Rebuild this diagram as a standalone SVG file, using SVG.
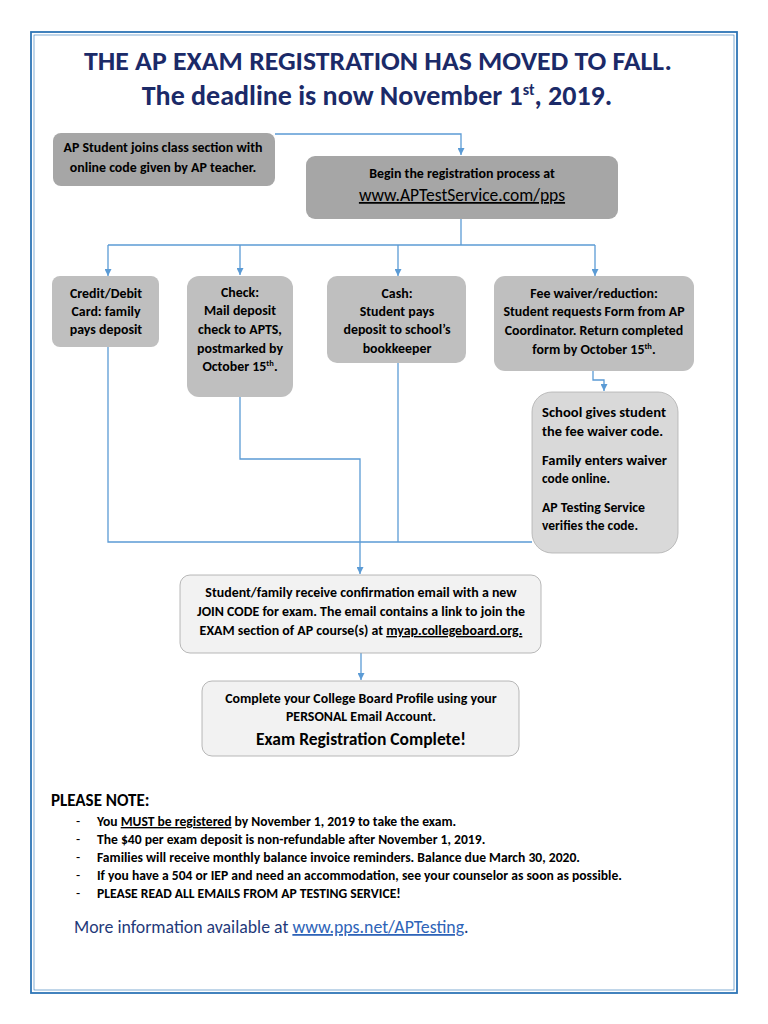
<svg xmlns="http://www.w3.org/2000/svg" width="768" height="1024" viewBox="0 0 768 1024">
<style>
text{font-family:"Carlito","Lato","Liberation Sans",sans-serif;fill:#000}
.t{font-weight:bold;fill:#1b2a68;font-size:26.5px}
.t2{font-size:28px}
.b{font-weight:bold}
.s{font-size:13.9px}
.n{font-size:13.6px}
.dark{fill:#a6a6a6}
.mid{fill:#bfbfbf}
.light{fill:#d9d9d9;stroke:#b0b0b0;stroke-width:0.8}
.pale{fill:#f2f2f2;stroke:#a6a6a6;stroke-width:0.8}
.c{fill:none;stroke:#5b9bd5;stroke-width:1.3}
</style>
<defs>
<marker id="ah" viewBox="0 0 10 10" refX="10" refY="5" markerWidth="7" markerHeight="7" markerUnits="userSpaceOnUse" orient="auto">
<path d="M0,0 L10,5 L0,10 z" fill="#5b9bd5"/>
</marker>
</defs>
<rect width="768" height="1024" fill="#fff"/>
<rect x="31" y="32" width="706" height="961" fill="none" stroke="#2e75b6" stroke-width="1.8"/>
<rect x="34" y="35" width="700" height="955" fill="none" stroke="#2e75b6" stroke-width="0.6"/>

<g id="title">
<text class="t" x="378" y="70" text-anchor="middle" textLength="588" lengthAdjust="spacingAndGlyphs">THE AP EXAM REGISTRATION HAS MOVED TO FALL.</text>
<text class="t t2" x="377" y="105" text-anchor="middle">The deadline is now November 1<tspan style="font-size:16px" dy="-10">st</tspan><tspan dy="10">, 2019.</tspan></text>
</g>

<g id="connectors">
<path class="c" d="M275,134 H461 V155" marker-end="url(#ah)"/>
<path class="c" d="M461,219 V245"/>
<path class="c" d="M108,245 H595"/>
<path class="c" d="M108,245 V276" marker-end="url(#ah)"/>
<path class="c" d="M240,245 V275" marker-end="url(#ah)"/>
<path class="c" d="M398,245 V276" marker-end="url(#ah)"/>
<path class="c" d="M595,245 V276" marker-end="url(#ah)"/>
<path class="c" d="M593,371 V380 H604 V391" marker-end="url(#ah)"/>
<path class="c" d="M108,347 V542 H532"/>
<path class="c" d="M398,363 V542"/>
<path class="c" d="M240,397 V459 H360 V574" marker-end="url(#ah)"/>
<path class="c" d="M361,653 V680" marker-end="url(#ah)"/>
</g>

<g id="n_join">
<rect class="dark" x="53" y="133" width="222" height="53" rx="8"/>
<text class="s b" x="163" y="152" text-anchor="middle">AP Student joins class section with</text>
<text class="s b" x="163" y="172" text-anchor="middle">online code given by AP teacher.</text>
</g>

<g id="n_begin">
<rect class="dark" x="306" y="156" width="312" height="63" rx="9"/>
<text class="s b" x="462" y="178" text-anchor="middle">Begin the registration process at</text>
<text x="462" y="201" text-anchor="middle" font-size="17.5" text-decoration="underline">www.APTestService.com/pps</text>
</g>

<g id="n_credit">
<rect class="mid" x="52" y="276" width="107" height="71" rx="8"/>
<text class="s b" x="106" y="298" text-anchor="middle">Credit/Debit</text>
<text class="s b" x="106" y="316" text-anchor="middle">Card: family</text>
<text class="s b" x="106" y="334" text-anchor="middle">pays deposit</text>
</g>

<g id="n_check">
<rect class="mid" x="187" y="276" width="106" height="121" rx="12"/>
<text class="s b" x="240" y="297" text-anchor="middle">Check:</text>
<text class="s b" x="240" y="315" text-anchor="middle">Mail deposit</text>
<text class="s b" x="240" y="334" text-anchor="middle">check to APTS,</text>
<text class="s b" x="240" y="353" text-anchor="middle">postmarked by</text>
<text class="s b" x="240" y="371" text-anchor="middle">October 15<tspan style="font-size:8.5px" dy="-5">th</tspan><tspan dy="5">.</tspan></text>
</g>

<g id="n_cash">
<rect class="mid" x="327" y="276" width="139" height="87" rx="10"/>
<text class="s b" x="397" y="298" text-anchor="middle">Cash:</text>
<text class="s b" x="397" y="316" text-anchor="middle">Student pays</text>
<text class="s b" x="397" y="334" text-anchor="middle">deposit to school’s</text>
<text class="s b" x="397" y="353" text-anchor="middle">bookkeeper</text>
</g>

<g id="n_fee">
<rect class="mid" x="494" y="276" width="200" height="95" rx="11"/>
<text class="s b" x="594" y="298" text-anchor="middle">Fee waiver/reduction:</text>
<text class="s b" x="594" y="316" text-anchor="middle">Student requests Form from AP</text>
<text class="s b" x="594" y="335" text-anchor="middle">Coordinator.  Return completed</text>
<text class="s b" x="594" y="354" text-anchor="middle">form by October 15<tspan style="font-size:8.5px" dy="-5">th</tspan><tspan dy="5">.</tspan></text>
</g>

<g id="n_school">
<rect class="light" x="532" y="392" width="146" height="161" rx="20"/>
<text class="s b" x="542" y="417" textLength="124" lengthAdjust="spacingAndGlyphs">School gives student</text>
<text class="s b" x="542" y="436" textLength="121" lengthAdjust="spacingAndGlyphs">the fee waiver code.</text>
<text class="s b" x="542" y="465" textLength="125" lengthAdjust="spacingAndGlyphs">Family enters waiver</text>
<text class="s b" x="542" y="483" textLength="68" lengthAdjust="spacingAndGlyphs">code online.</text>
<text class="s b" x="542" y="512" textLength="103" lengthAdjust="spacingAndGlyphs">AP Testing Service</text>
<text class="s b" x="542" y="530" textLength="96" lengthAdjust="spacingAndGlyphs">verifies the code.</text>
</g>

<g id="n_confirm">
<rect class="pale" x="180" y="575" width="361" height="78" rx="10"/>
<text class="s b" x="361" y="597" text-anchor="middle">Student/family receive confirmation email with a new</text>
<text class="s b" x="361" y="616" text-anchor="middle">JOIN CODE for exam.  The email contains a link to join the</text>
<text class="s b" x="361" y="635" text-anchor="middle">EXAM section of AP course(s) at <tspan text-decoration="underline">myap.collegeboard.org.</tspan></text>
</g>

<g id="n_complete">
<rect class="pale" x="202" y="681" width="317" height="75" rx="10"/>
<text class="s b" x="361" y="703" text-anchor="middle">Complete your College Board Profile using your</text>
<text class="s b" x="361" y="721" text-anchor="middle">PERSONAL Email Account.</text>
<text class="b" x="361" y="745" text-anchor="middle" font-size="17.5">Exam Registration Complete!</text>
</g>

<g id="notes">
<text class="b" x="51" y="806" font-size="17">PLEASE NOTE:</text>
<text class="n" x="76" y="826">-</text>
<text class="n b" x="97" y="826">You <tspan text-decoration="underline">MUST be registered</tspan> by November 1, 2019 to take the exam.</text>
<text class="n" x="76" y="844">-</text>
<text class="n b" x="97" y="844">The $40 per exam deposit is non-refundable after November 1, 2019.</text>
<text class="n" x="76" y="862">-</text>
<text class="n b" x="97" y="862">Families will receive monthly balance invoice reminders.  Balance due March 30, 2020.</text>
<text class="n" x="76" y="880">-</text>
<text class="n b" x="97" y="880">If you have a 504 or IEP and need an accommodation, see your counselor as soon as possible.</text>
<text class="n" x="76" y="898">-</text>
<text class="n b" x="97" y="898">PLEASE READ ALL EMAILS FROM AP TESTING SERVICE!</text>
<text x="74" y="933" font-size="17.8" style="fill:#1f3a7a">More information available at <tspan style="fill:#2e64b8" text-decoration="underline">www.pps.net/APTesting</tspan>.</text>
</g>
</svg>
